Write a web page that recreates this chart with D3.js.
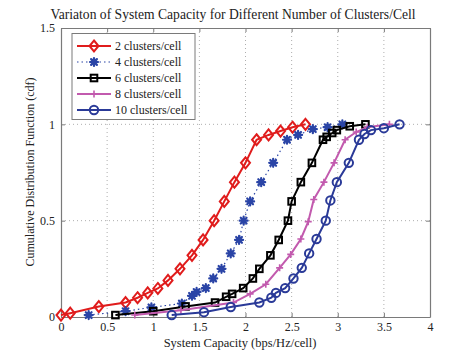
<!DOCTYPE html>
<html><head><meta charset="utf-8">
<script src="https://cdn.jsdelivr.net/npm/d3@7"></script>
<style>body{margin:0;background:#fff}svg{display:block}text{font-family:"Liberation Serif","Times New Roman","DejaVu Serif",serif;fill:#222}</style>
</head><body><svg id="c" width="474" height="356"></svg>
<script>
const titleText = "Variaton of System Capacity for Different Number of Clusters/Cell";
const xLabel = "System Capacity (bps/Hz/cell)";
const yLabel = "Cumulative Distribution Function (cdf)";
const xTicks = [0, 0.5, 1, 1.5, 2, 2.5, 3, 3.5, 4];
const xTickLabels = ["0", "0.5", "1", "1.5", "2", "2.5", "3", "3.5", "4"];
const yTicks = [0, 0.5, 1, 1.5];
const yTickLabels = ["0", "0.5", "1", "1.5"];
const seriesNames = ["2 clusters/cell", "4 clusters/cell", "6 clusters/cell", "8 clusters/cell", "10 clusters/cell"];

const x2 = [0, 0.1, 0.41, 0.70, 0.83, 0.94, 1.05, 1.16, 1.29, 1.42, 1.54, 1.66, 1.77, 1.88, 2.0, 2.12, 2.25, 2.38, 2.51, 2.65];
const y2 = [0.01, 0.02, 0.054, 0.075, 0.10, 0.125, 0.148, 0.19, 0.25, 0.32, 0.40, 0.50, 0.60, 0.70, 0.80, 0.92, 0.945, 0.965, 0.985, 1.0];
const x4 = [0.30, 0.70, 0.98, 1.31, 1.42, 1.47, 1.57, 1.65, 1.74, 1.84, 1.93, 1.98, 2.05, 2.17, 2.30, 2.45, 2.57, 2.73, 2.89, 3.05];
const y4 = [0.01, 0.03, 0.05, 0.07, 0.11, 0.13, 0.15, 0.20, 0.25, 0.33, 0.40, 0.50, 0.60, 0.70, 0.80, 0.92, 0.945, 0.975, 0.985, 1.0];
const x6 = [0.59, 1.0, 1.35, 1.67, 1.79, 1.855, 1.975, 2.08, 2.15, 2.27, 2.36, 2.46, 2.50, 2.60, 2.72, 2.84, 2.88, 2.94, 2.99, 3.13, 3.30];
const y6 = [0.01, 0.03, 0.055, 0.075, 0.105, 0.12, 0.15, 0.20, 0.25, 0.32, 0.40, 0.50, 0.60, 0.70, 0.80, 0.92, 0.935, 0.955, 0.97, 0.99, 1.0];
const x8 = [0.80, 1.30, 1.87, 2.05, 2.22, 2.37, 2.49, 2.60, 2.68, 2.74, 2.85, 2.96, 3.08, 3.20, 3.32, 3.56];
const y8 = [0.01, 0.035, 0.075, 0.12, 0.17, 0.255, 0.325, 0.405, 0.495, 0.61, 0.70, 0.80, 0.92, 0.96, 0.985, 1.0];
const x10 = [1.20, 1.55, 1.84, 2.15, 2.28, 2.33, 2.43, 2.52, 2.61, 2.69, 2.77, 2.87, 2.92, 2.99, 3.12, 3.23, 3.29, 3.36, 3.50, 3.67];
const y10 = [0.01, 0.025, 0.052, 0.075, 0.10, 0.125, 0.15, 0.20, 0.255, 0.33, 0.405, 0.50, 0.605, 0.70, 0.80, 0.92, 0.95, 0.97, 0.98, 1.0];

const styles = [
  {color:"#e01c1c", marker:"diamond", dash:null, lw:2},
  {color:"#2a44a6", marker:"star", dash:"1.5,3", lw:1.2},
  {color:"#000000", marker:"square", dash:null, lw:2},
  {color:"#c25aae", marker:"plus", dash:null, lw:2},
  {color:"#2a3a98", marker:"circle", dash:null, lw:2}
];
const xs = [x2, x4, x6, x8, x10], ys = [y2, y4, y6, y8, y10];

const svg = d3.select("#c");
const L = 61, R = 430, T = 28, B = 317;
const x = d3.scaleLinear().domain([0, 4]).range([L, R]);
const y = d3.scaleLinear().domain([0, 1.5]).range([B, T]);
const axisCol = "#7a7a7a";
const FONT = '"Liberation Serif","Times New Roman","DejaVu Serif",serif';

// grid
const g = svg.append("g");
g.selectAll(".gx").data(xTicks.slice(1, -1)).enter().append("line")
  .attr("x1", d => x(d)).attr("x2", d => x(d)).attr("y1", T).attr("y2", B)
  .attr("stroke", "#999").attr("stroke-width", 0.8).attr("stroke-dasharray", "1,3");
g.selectAll(".gy").data(yTicks.slice(1, -1)).enter().append("line")
  .attr("x1", L).attr("x2", R).attr("y1", d => y(d)).attr("y2", d => y(d))
  .attr("stroke", "#999").attr("stroke-width", 0.8).attr("stroke-dasharray", "1,3");

// axes
const xa = svg.append("g").attr("transform", `translate(0,${B})`)
  .call(d3.axisBottom(x).tickValues(xTicks).tickFormat((d, i) => xTickLabels[i]).tickSizeInner(-4).tickSizeOuter(0).tickPadding(5));
const xt = svg.append("g").attr("transform", `translate(0,${T})`)
  .call(d3.axisTop(x).tickValues(xTicks).tickFormat("").tickSizeInner(-4).tickSizeOuter(0));
const ya = svg.append("g").attr("transform", `translate(${L},0)`)
  .call(d3.axisLeft(y).tickValues(yTicks).tickFormat((d, i) => yTickLabels[i]).tickSizeInner(-4).tickSizeOuter(0).tickPadding(6));
const yr = svg.append("g").attr("transform", `translate(${R},0)`)
  .call(d3.axisRight(y).tickValues(yTicks).tickFormat("").tickSizeInner(-4).tickSizeOuter(0));
[xa, xt, ya, yr].forEach(a => {
  a.attr("font-family", FONT);
  a.select(".domain").attr("stroke", axisCol).attr("stroke-width", 1.2);
  a.selectAll(".tick line").attr("stroke", axisCol);
  a.selectAll("text").attr("font-size", 12).attr("fill", "#222");
});

function drawMarker(sel, type, color) {
  if (type === "diamond") {
    sel.append("path").attr("d", "M0,-5.5L4.5,0L0,5.5L-4.5,0Z").attr("fill", "none").attr("stroke", color).attr("stroke-width", 2);
  } else if (type === "square") {
    sel.append("rect").attr("x", -3.3).attr("y", -3.3).attr("width", 6.6).attr("height", 6.6).attr("fill", "none").attr("stroke", color).attr("stroke-width", 2);
  } else if (type === "circle") {
    sel.append("circle").attr("r", 4.2).attr("fill", "none").attr("stroke", color).attr("stroke-width", 2);
  } else if (type === "plus") {
    sel.append("path").attr("d", "M-3.5,0H3.5M0,-3.5V3.5").attr("stroke", color).attr("stroke-width", 1.6);
  } else if (type === "star") {
    sel.append("path").attr("d", "M-4,0H4M0,-4V4M-2.9,-2.9L2.9,2.9M-2.9,2.9L2.9,-2.9").attr("stroke", color).attr("stroke-width", 2.2).attr("stroke-linecap", "round");
  }
}
const line = d3.line().x(d => x(d[0])).y(d => y(d[1]));
styles.forEach((s, i) => {
  const pts = xs[i].map((v, j) => [v, ys[i][j]]);
  const gs = svg.append("g");
  gs.append("path").datum(pts).attr("d", line).attr("fill", "none").attr("stroke", s.color)
    .attr("stroke-width", s.lw).attr("stroke-dasharray", s.dash);
  gs.selectAll(".m").data(pts).enter().append("g")
    .attr("transform", d => `translate(${x(d[0])},${y(d[1])})`)
    .each(function () { drawMarker(d3.select(this), s.marker, s.color); });
});

// legend
const lg = svg.append("g");
lg.append("rect").attr("x", 72).attr("y", 33.5).attr("width", 123).attr("height", 86)
  .attr("fill", "#fff").attr("stroke", axisCol).attr("stroke-width", 1);
seriesNames.forEach((n, i) => {
  const ly = 46 + i * 16;
  const s = styles[i];
  lg.append("line").attr("x1", 77).attr("x2", 111).attr("y1", ly).attr("y2", ly)
    .attr("stroke", s.color).attr("stroke-width", s.lw).attr("stroke-dasharray", s.dash);
  drawMarker(lg.append("g").attr("transform", `translate(94,${ly})`), s.marker, s.color);
  lg.append("text").attr("x", 115).attr("y", ly + 4).attr("font-size", 12).text(n);
});

// titles
svg.append("text").attr("x", 233).attr("y", 19).attr("text-anchor", "middle").attr("font-size", 13.6).text(titleText);
svg.append("text").attr("x", 240).attr("y", 347).attr("text-anchor", "middle").attr("font-size", 12.5).text(xLabel);
svg.append("text").attr("transform", "translate(34,172) rotate(-90)").attr("text-anchor", "middle").attr("font-size", 12).text(yLabel);
</script></body></html>
